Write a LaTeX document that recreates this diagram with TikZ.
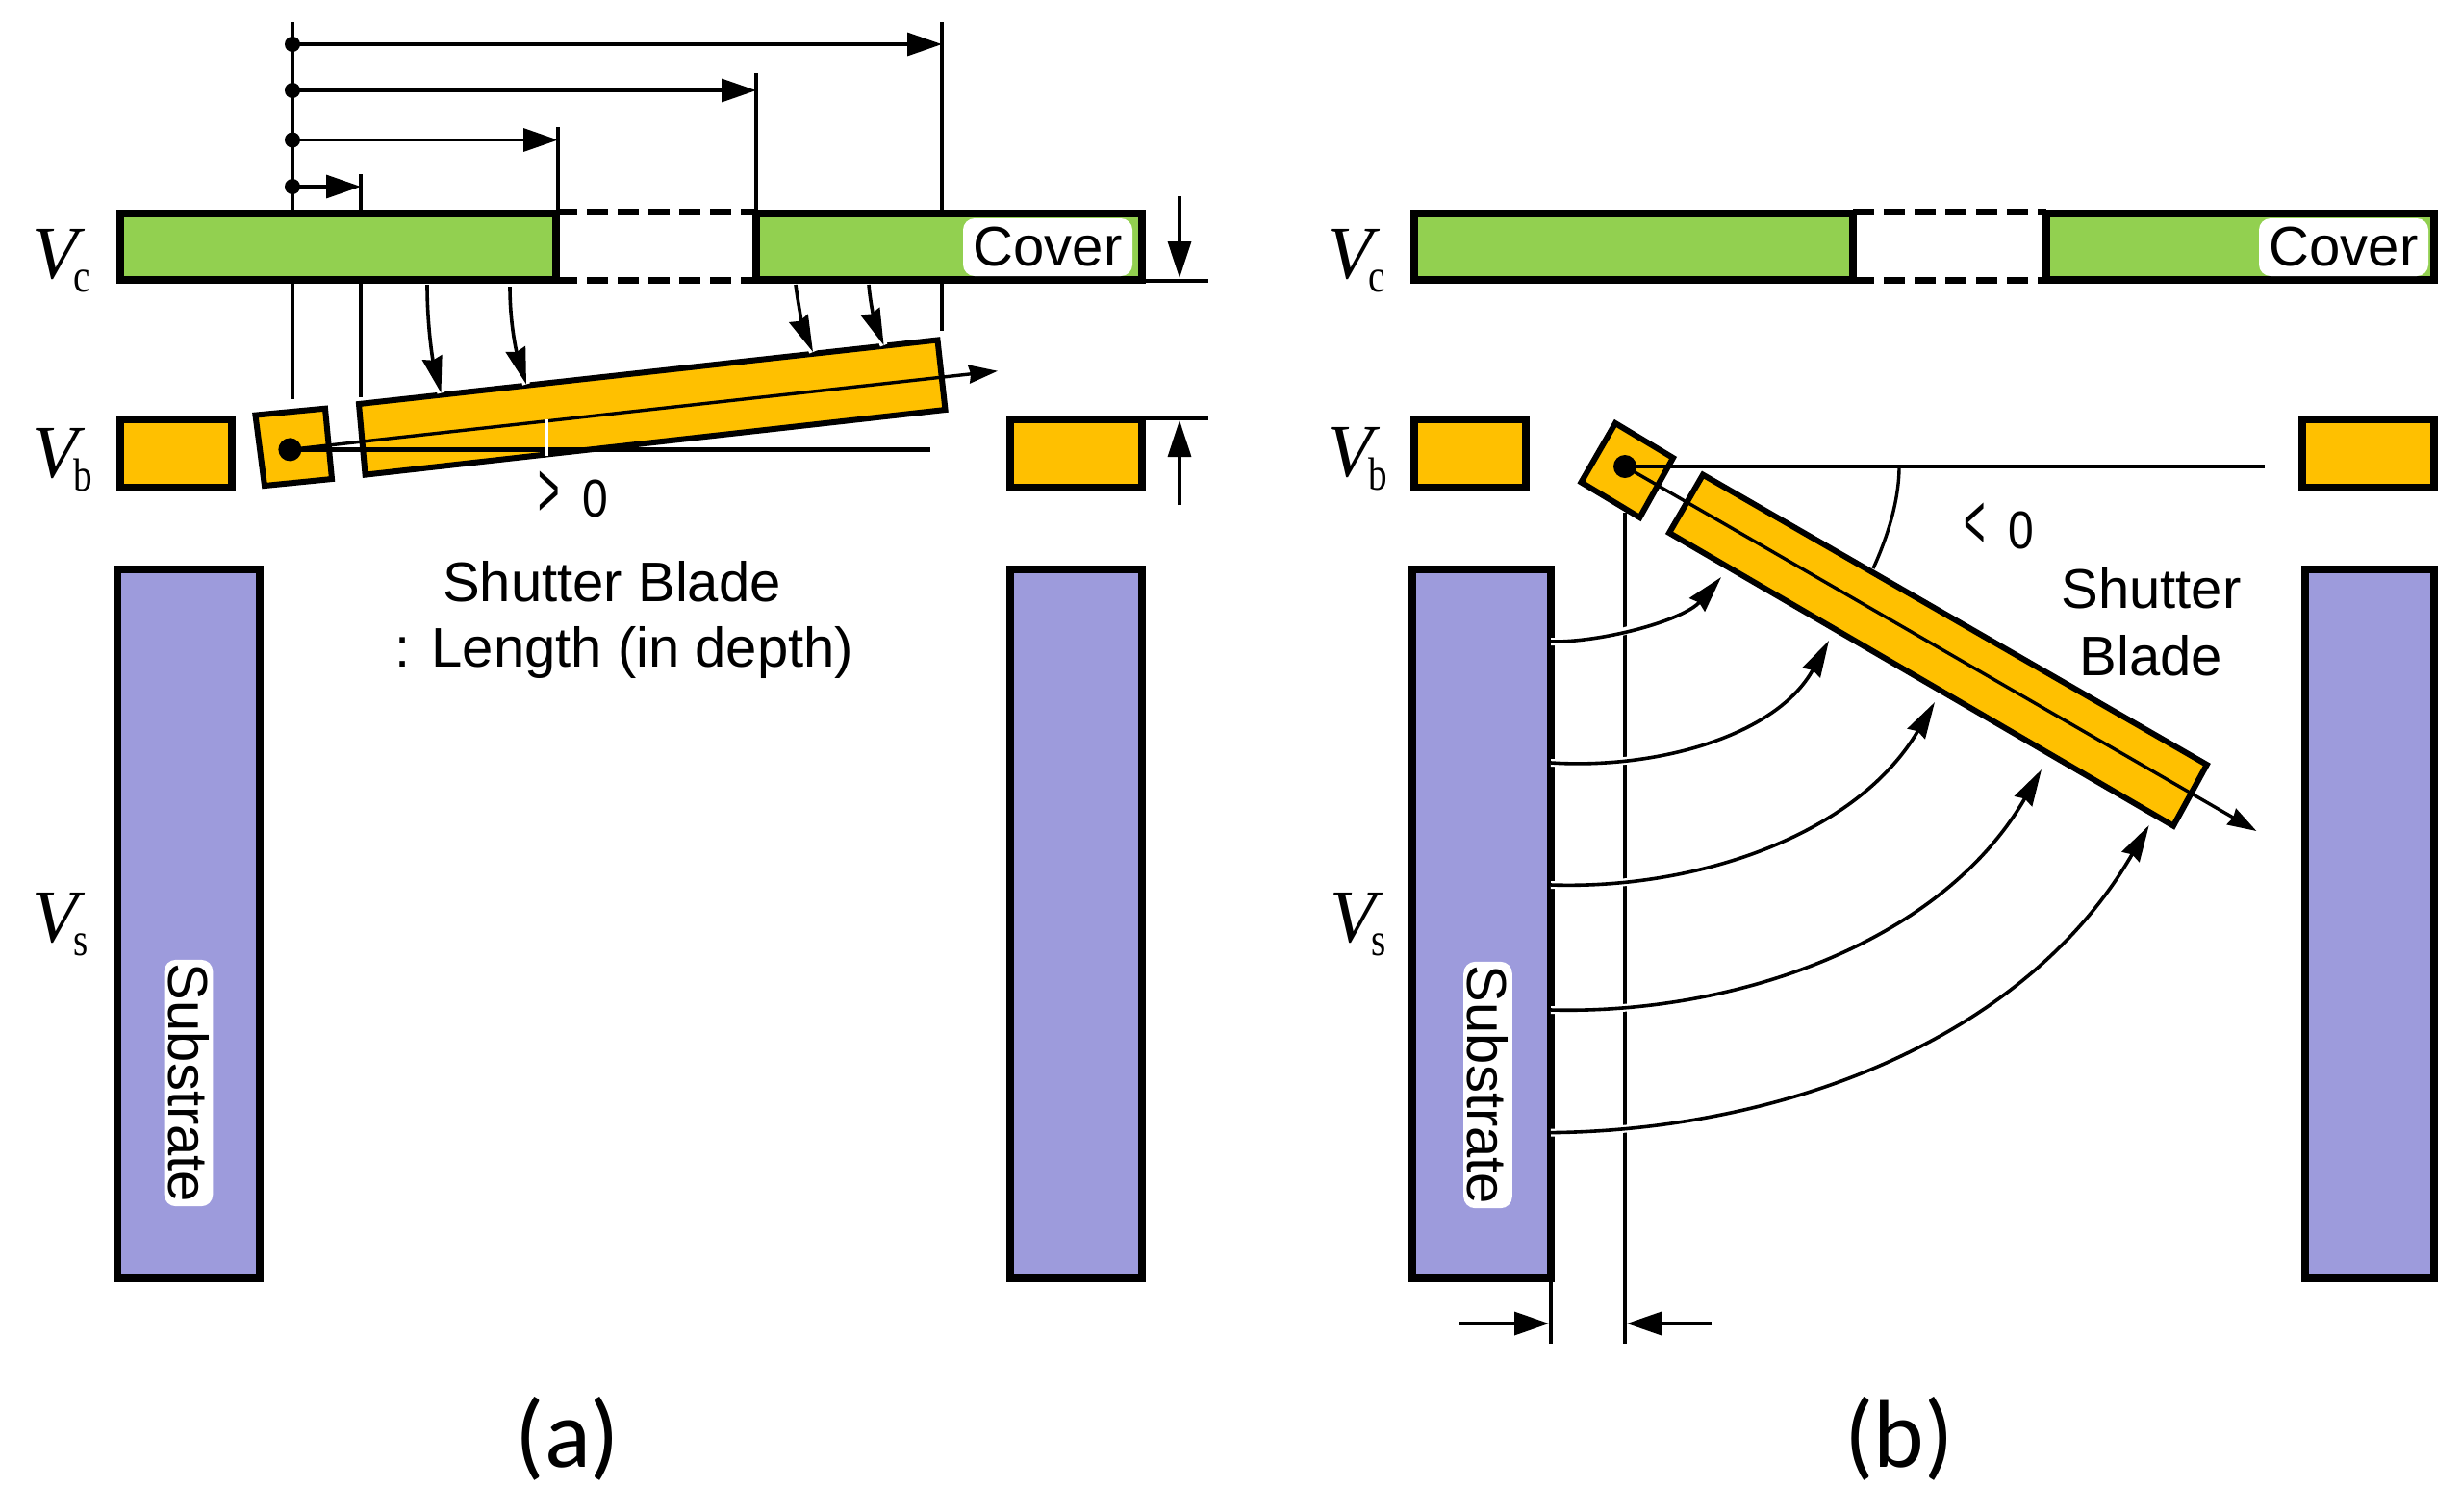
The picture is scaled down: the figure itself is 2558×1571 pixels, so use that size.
\documentclass[tikz,border=0pt]{standalone}
\usepackage{fontspec}
\usepackage{graphicx}
\setmainfont{Liberation Sans}
\newfontfamily\serifv{Liberation Serif}
\newfontfamily\calib{Carlito}
\usetikzlibrary{arrows.meta}
\definecolor{cov}{HTML}{92D050}
\definecolor{org}{HTML}{FFC000}
\definecolor{subst}{HTML}{9D9BDC}
\newcommand{\volt}[1]{{\serifv\fontsize{39}{39}\selectfont\textit{V}\hspace{-6pt}\raisebox{-7pt}{\fontsize{23}{23}\selectfont\scalebox{.85}[1.05]{#1}}}}
\tikzset{
  x=0.5pt,y=-0.5pt,
  box/.style={draw=black,line width=3.8pt,line join=miter},
  blade/.style={draw=black,line width=3pt,fill=org,line join=miter},
  thin line/.style={draw=black,line width=1.7pt},
  dash line/.style={draw=black,line width=3.8pt,dash pattern=on 11pt off 5pt},
  dim/.style={thin line,-{Triangle[length=18pt,width=12pt]}},
  field/.style={draw=black,line width=1.8pt,-{Stealth[length=19pt,width=10.5pt,inset=1.5pt]},preaction={draw=white,line width=4pt,-}},
  axisline/.style={draw=black,line width=1.7pt,-{Stealth[length=15pt,width=9.5pt,inset=1pt]}},
  lab/.style={font=\fontsize{29}{32}\selectfont,inner sep=0pt},
  glow/.style={lab,fill=white,rounded corners=6pt,inner sep=2pt},
  num/.style={font=\fontsize{24}{24}\selectfont,inner sep=0pt},
  figcap/.style={font=\calib\fontsize{50}{50}\selectfont,inner sep=0pt},
  dot/.style={fill=black,circle,inner sep=0pt,minimum size=#1},
}
\begin{document}
\begin{tikzpicture}
\useasboundingbox (0,0) rectangle (2558,1571);
% ---------- panel (a)
\draw[thin line] (304,23) -- (304,220);
\draw[thin line] (375,181) -- (375,220);
\draw[thin line] (580,132) -- (580,220);
\draw[thin line] (786,76) -- (786,220);
\draw[thin line] (979,23) -- (979,220);
\draw[thin line] (304,291) -- (304,415);
\draw[thin line] (375,291) -- (375,413);
\draw[thin line] (979,291) -- (979,344);
\draw[dim] (304,46) -- (979,46);
\draw[dim] (304,94) -- (786,94);
\draw[dim] (304,145.5) -- (580,145.5);
\draw[dim] (304,194) -- (375,194);
\foreach \n/\y in {a/46,b/94,c/145.5,d/194} \node[dot=8pt] (tick\n) at (304,\y) {};
\draw[box,fill=cov] (125,222) rectangle (578,291);
\draw[box,fill=cov] (786,222) rectangle (1187,291);
\draw[dash line] (578,220.5) -- (786,220.5);
\draw[dash line] (578,291.5) -- (786,291.5);
\node[glow,minimum width=88pt,minimum height=30pt] (coverA) at (1089,257) {Cover};
\draw[box,fill=org] (125,436) rectangle (241,507);
\draw[box,fill=org] (1050,436) rectangle (1187,507);
\draw[box,fill=subst] (122,592) rectangle (270,1329);
\draw[box,fill=subst] (1050,592) rectangle (1187,1329);
\draw[thin line,line width=2pt] (1187,291.5) -- (1256,291.5);
\draw[thin line,line width=2pt] (1187,435) -- (1256,435);
\draw[thin line,-{Triangle[length=19pt,width=12pt]}] (1226,204) -- (1226,289);
\draw[thin line,-{Triangle[length=19pt,width=12pt]}] (1226,525) -- (1226,437);
\draw[blade] (265.5,431.6) -- (338,424.7) -- (345,498) -- (275,505) -- cycle;
\draw[blade] (373,420) -- (974.5,353.5) -- (982.5,426) -- (379.6,493.6) -- cycle;
\draw[axisline] (301.4,467.4) -- (1037,385.7);
\draw[thin line,line width=2.2pt] (301.4,467.4) -- (966.5,467.4);
\draw[white,line width=2pt] (568,436) -- (568,474);
\node[dot=12pt] (pivotA) at (301.4,467.4) {};
\draw[field] (444,296) .. controls (444,340) and (450,375) .. (458.5,408.6);
\draw[field] (530,298) .. controls (530,340) and (538,370) .. (547,399.5);
\draw[field] (827,296) .. controls (830,320) and (836,345) .. (845,366);
\draw[field] (903,296) .. controls (905,320) and (911,340) .. (918.6,359);
\node[num] (gtzero) at (596,514) {\scalebox{.8}[1.7]{>}\hspace{12pt}\scalebox{1}[1.15]{0}};
\node[lab] (shutA) at (636,605) {Shutter Blade};
\node[lab] (lenA) at (649,678) {: Length (in depth)};
\node[glow,rotate=-90] (subA) at (196,1126) {Substrate};
\node[anchor=base west,inner sep=0pt] (vcA) at (33,289) {\volt{c}};
\node[anchor=base west,inner sep=0pt] (vbA) at (33,496) {\volt{b}};
\node[anchor=base west,inner sep=0pt] (vsA) at (33,979) {\volt{s}};
\node[figcap] (capA) at (590,1496) {(a)};
% ---------- panel (b)
\draw[box,fill=cov] (1470,222) rectangle (1926,291);
\draw[box,fill=cov] (2127,222) rectangle (2530,291);
\draw[dash line] (1926,220.5) -- (2127,220.5);
\draw[dash line] (1926,291.5) -- (2127,291.5);
\node[glow,minimum width=88pt,minimum height=30pt] (coverB) at (2436,257) {Cover};
\draw[box,fill=org] (1470,436) rectangle (1586,507);
\draw[box,fill=org] (2393,436) rectangle (2530,507);
\draw[box,fill=subst] (1468,592) rectangle (1612,1329);
\draw[box,fill=subst] (2396,592) rectangle (2530,1329);
\draw[thin line] (1612,1329) -- (1612,1397);
\draw[thin line] (1689,533) -- (1689,1397);
\draw[dim] (1517,1376) -- (1610,1376);
\draw[dim] (1779,1376) -- (1691,1376);
\draw[field] (1612,667) .. controls (1665,668) and (1750,645) .. (1789,600);
\draw[field] (1612,793) .. controls (1720,800) and (1846,766) .. (1901,666);
\draw[field] (1612,920) .. controls (1760,925) and (1929,870) .. (2011,730);
\draw[field] (1612,1050) .. controls (1800,1055) and (2017,982) .. (2122,800);
\draw[field] (1612,1177.6) .. controls (1850,1175) and (2103,1083) .. (2233.7,858);
\draw[blade] (1679,440) -- (1739,476) -- (1704.4,538) -- (1643.5,501.4) -- cycle;
\draw[blade] (1770,493.6) -- (2293.8,795) -- (2259,858.6) -- (1735,554) -- cycle;
\draw[axisline] (1689,485) -- (2345.4,864);
\draw[thin line] (1689,485) -- (2354,485);
\draw[thin line] (1974,485) .. controls (1974,520) and (1962,558) .. (1947,591);
\node[dot=12pt] (pivotB) at (1689,485) {};
\node[num] (ltzero) at (2078,547) {\scalebox{.8}[1.7]{<}\hspace{12pt}\scalebox{1}[1.15]{0}};
\node[lab] (shutB) at (2236,612) {Shutter};
\node[lab] (bladeB) at (2236,682) {Blade};
\node[glow,rotate=-90] (subB) at (1546.5,1128) {Substrate};
\node[anchor=base west,inner sep=0pt] (vcB) at (1379,289) {\volt{c}};
\node[anchor=base west,inner sep=0pt] (vbB) at (1379,495) {\volt{b}};
\node[anchor=base west,inner sep=0pt] (vsB) at (1382,979) {\volt{s}};
\node[figcap] (capB) at (1974,1496) {(b)};
\end{tikzpicture}
\end{document}
